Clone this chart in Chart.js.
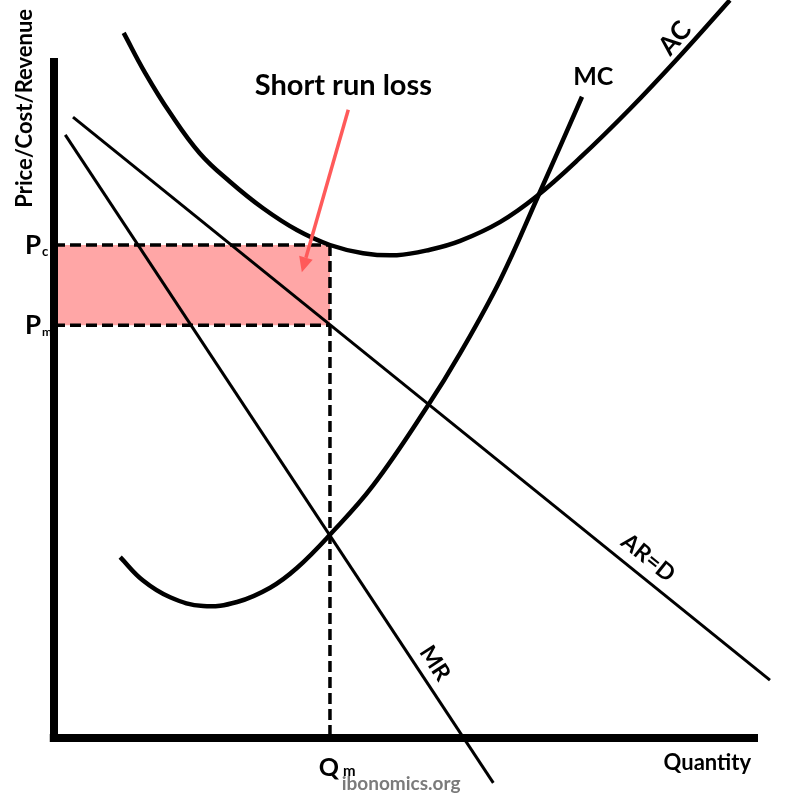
<!DOCTYPE html>
<html>
<head>
<meta charset="utf-8">
<script src="https://cdn.jsdelivr.net/npm/chart.js@4.4.0/dist/chart.umd.min.js"></script>
<style>
  html, body { margin: 0; padding: 0; background: #fff; }
  #wrap { width: 800px; height: 800px; position: relative; }
</style>
</head>
<body>
<div id="wrap"><canvas id="chart"></canvas></div>
<script>
  // values: origin = axis corner, axis ends = 100
  const acQ = [9.9, 12.9, 16.5, 20.7, 25.0, 29.7, 34.5, 39.2, 43.9, 48.7, 53.4, 57.7, 63.4, 68.6, 74.7, 81.8, 88.9, 96.0];
  const acP = [103.7, 97.9, 91.9, 86.0, 81.8, 77.9, 74.7, 72.5, 71.3, 71.0, 71.8, 73.1, 75.9, 79.7, 85.3, 92.5, 100.3, 108.5];

  const mcQ = [9.4, 12.6, 16.5, 21.2, 26.0, 30.7, 34.5, 39.2, 45.3, 53.0, 57.7, 63.4, 68.6, 75.0];
  const mcP = [26.6, 23.2, 20.7, 19.4, 20.0, 22.1, 25.0, 29.9, 37.1, 48.7, 56.6, 67.4, 79.3, 94.3];

  const arQ = [2.7, 101.7];
  const arP = [91.3, 8.5];

  const mrQ = [1.6, 62.4];
  const mrP = [88.7, -6.6];

  const Qm = 39.2;
  const Pc = 72.5;
  const Pm = 60.7;

  const pts = (xs, ys) => xs.map((v, i) => ({ x: v, y: ys[i] }));

  const FONT = 'Lato';

  const labels = {
    id: 'labels',
    afterDatasetsDraw(chart) {
      const { ctx, scales: { x, y } } = chart;
      const text = (str, px, py, size, opts = {}) => {
        ctx.save();
        ctx.translate(px, py);
        ctx.rotate((opts.rot || 0) * Math.PI / 180);
        ctx.font = `bold ${size}px ${FONT}`;
        ctx.fillStyle = opts.color || '#000';
        ctx.textAlign = opts.align || 'center';
        ctx.textBaseline = opts.base || 'middle';
        ctx.fillText(str, 0, 0);
        ctx.restore();
      };
      const X = v => x.getPixelForValue(v);
      const Y = v => y.getPixelForValue(v);

      // axis titles
      text('Price/Cost/Revenue', X(0) - 29, Y(92.6), 22, { rot: -90 });
      text('Quantity', X(92.8), Y(-3.7), 22);
      text('ibonomics.org', X(49.3), Y(-6.8), 19, { color: '#7b7b7b' });

      // price / quantity marks
      text('P', X(0) - 13, Y(Pc) + 9, 26, { align: 'right', base: 'alphabetic' });
      text('c', X(0) - 12, Y(Pc) + 11, 13, { align: 'left', base: 'alphabetic' });
      text('P', X(0) - 13, Y(Pm) + 9, 26, { align: 'right', base: 'alphabetic' });
      text('m', X(0) - 12, Y(Pm) + 11, 12, { align: 'left', base: 'alphabetic' });
      text('Q', X(Qm) - 1, Y(0) + 38, 25, { base: 'alphabetic' });
      text('m', X(Qm) + 13, Y(0) + 38, 15, { align: 'left', base: 'alphabetic' });

      // curve names
      text('AC', X(88.2), Y(102.9), 26, { rot: -50 });
      text('MC', X(76.6), Y(97.2), 25);
      text('AR=D', X(84.4), Y(26.5), 23, { rot: 39 });
      text('MR', X(54.1), Y(11.0), 23, { rot: 57 });

      // annotation + arrow
      text('Short run loss', X(41.1), Y(96.0), 29);
      const x0 = X(41.8), y0 = Y(92.4), x1 = X(35.2), y1 = Y(68.5);
      const a = Math.atan2(y1 - y0, x1 - x0);
      const head = 15, half = 7;
      ctx.save();
      ctx.strokeStyle = '#ff5a5a';
      ctx.fillStyle = '#ff5a5a';
      ctx.lineWidth = 3.5;
      ctx.beginPath();
      ctx.moveTo(x0, y0);
      ctx.lineTo(x1 - Math.cos(a) * head, y1 - Math.sin(a) * head);
      ctx.stroke();
      ctx.beginPath();
      ctx.moveTo(x1, y1);
      ctx.lineTo(x1 - Math.cos(a) * head - Math.sin(a) * half, y1 - Math.sin(a) * head + Math.cos(a) * half);
      ctx.lineTo(x1 - Math.cos(a) * head + Math.sin(a) * half, y1 - Math.sin(a) * head - Math.cos(a) * half);
      ctx.closePath();
      ctx.fill();
      ctx.restore();
    }
  };

  const dash = [11, 5];

  new Chart(
    document.getElementById('chart'),
    {
      type: 'line',
      data: {
        datasets: [
          { label: 'y axis', data: pts([0, 0], [-0.6, 100]), borderColor: '#000', borderWidth: 8, pointRadius: 0 },
          { label: 'x axis', data: pts([-0.6, 100], [0, 0]), borderColor: '#000', borderWidth: 8, pointRadius: 0 },
          { label: 'AC', data: pts(acQ, acP), borderColor: '#000', borderWidth: 4.5, pointRadius: 0, tension: 0.4 },
          { label: 'MC', data: pts(mcQ, mcP), borderColor: '#000', borderWidth: 4.5, pointRadius: 0, tension: 0.4 },
          { label: 'AR=D', data: pts(arQ, arP), borderColor: '#000', borderWidth: 3, pointRadius: 0 },
          { label: 'MR', data: pts(mrQ, mrP), borderColor: '#000', borderWidth: 3, pointRadius: 0 },
          { label: 'Qm', data: pts([Qm, Qm], [Pc, 0]), borderColor: '#000', borderWidth: 3.5, borderDash: dash, pointRadius: 0 },
          { label: 'Pm', data: pts([0, Qm], [Pm, Pm]), borderColor: '#000', borderWidth: 3.5, borderDash: dash, pointRadius: 0 },
          { label: 'loss', data: pts([0, Qm], [Pc, Pc]), borderColor: '#000', borderWidth: 3.5, borderDash: dash, pointRadius: 0,
            fill: { value: Pm }, backgroundColor: '#ffa6a6' }
        ]
      },
      options: {
        responsive: true,
        maintainAspectRatio: false,
        animation: false,
        events: [],
        layout: { padding: 0 },
        plugins: {
          legend: { display: false },
          tooltip: { enabled: false }
        },
        scales: {
          x: { type: 'linear', display: false, min: -54 / 7.04, max: 746 / 7.04 },
          y: { type: 'linear', display: false, min: -62 / 6.8, max: 738 / 6.8 }
        }
      },
      plugins: [labels]
    }
  );
</script>
</body>
</html>
